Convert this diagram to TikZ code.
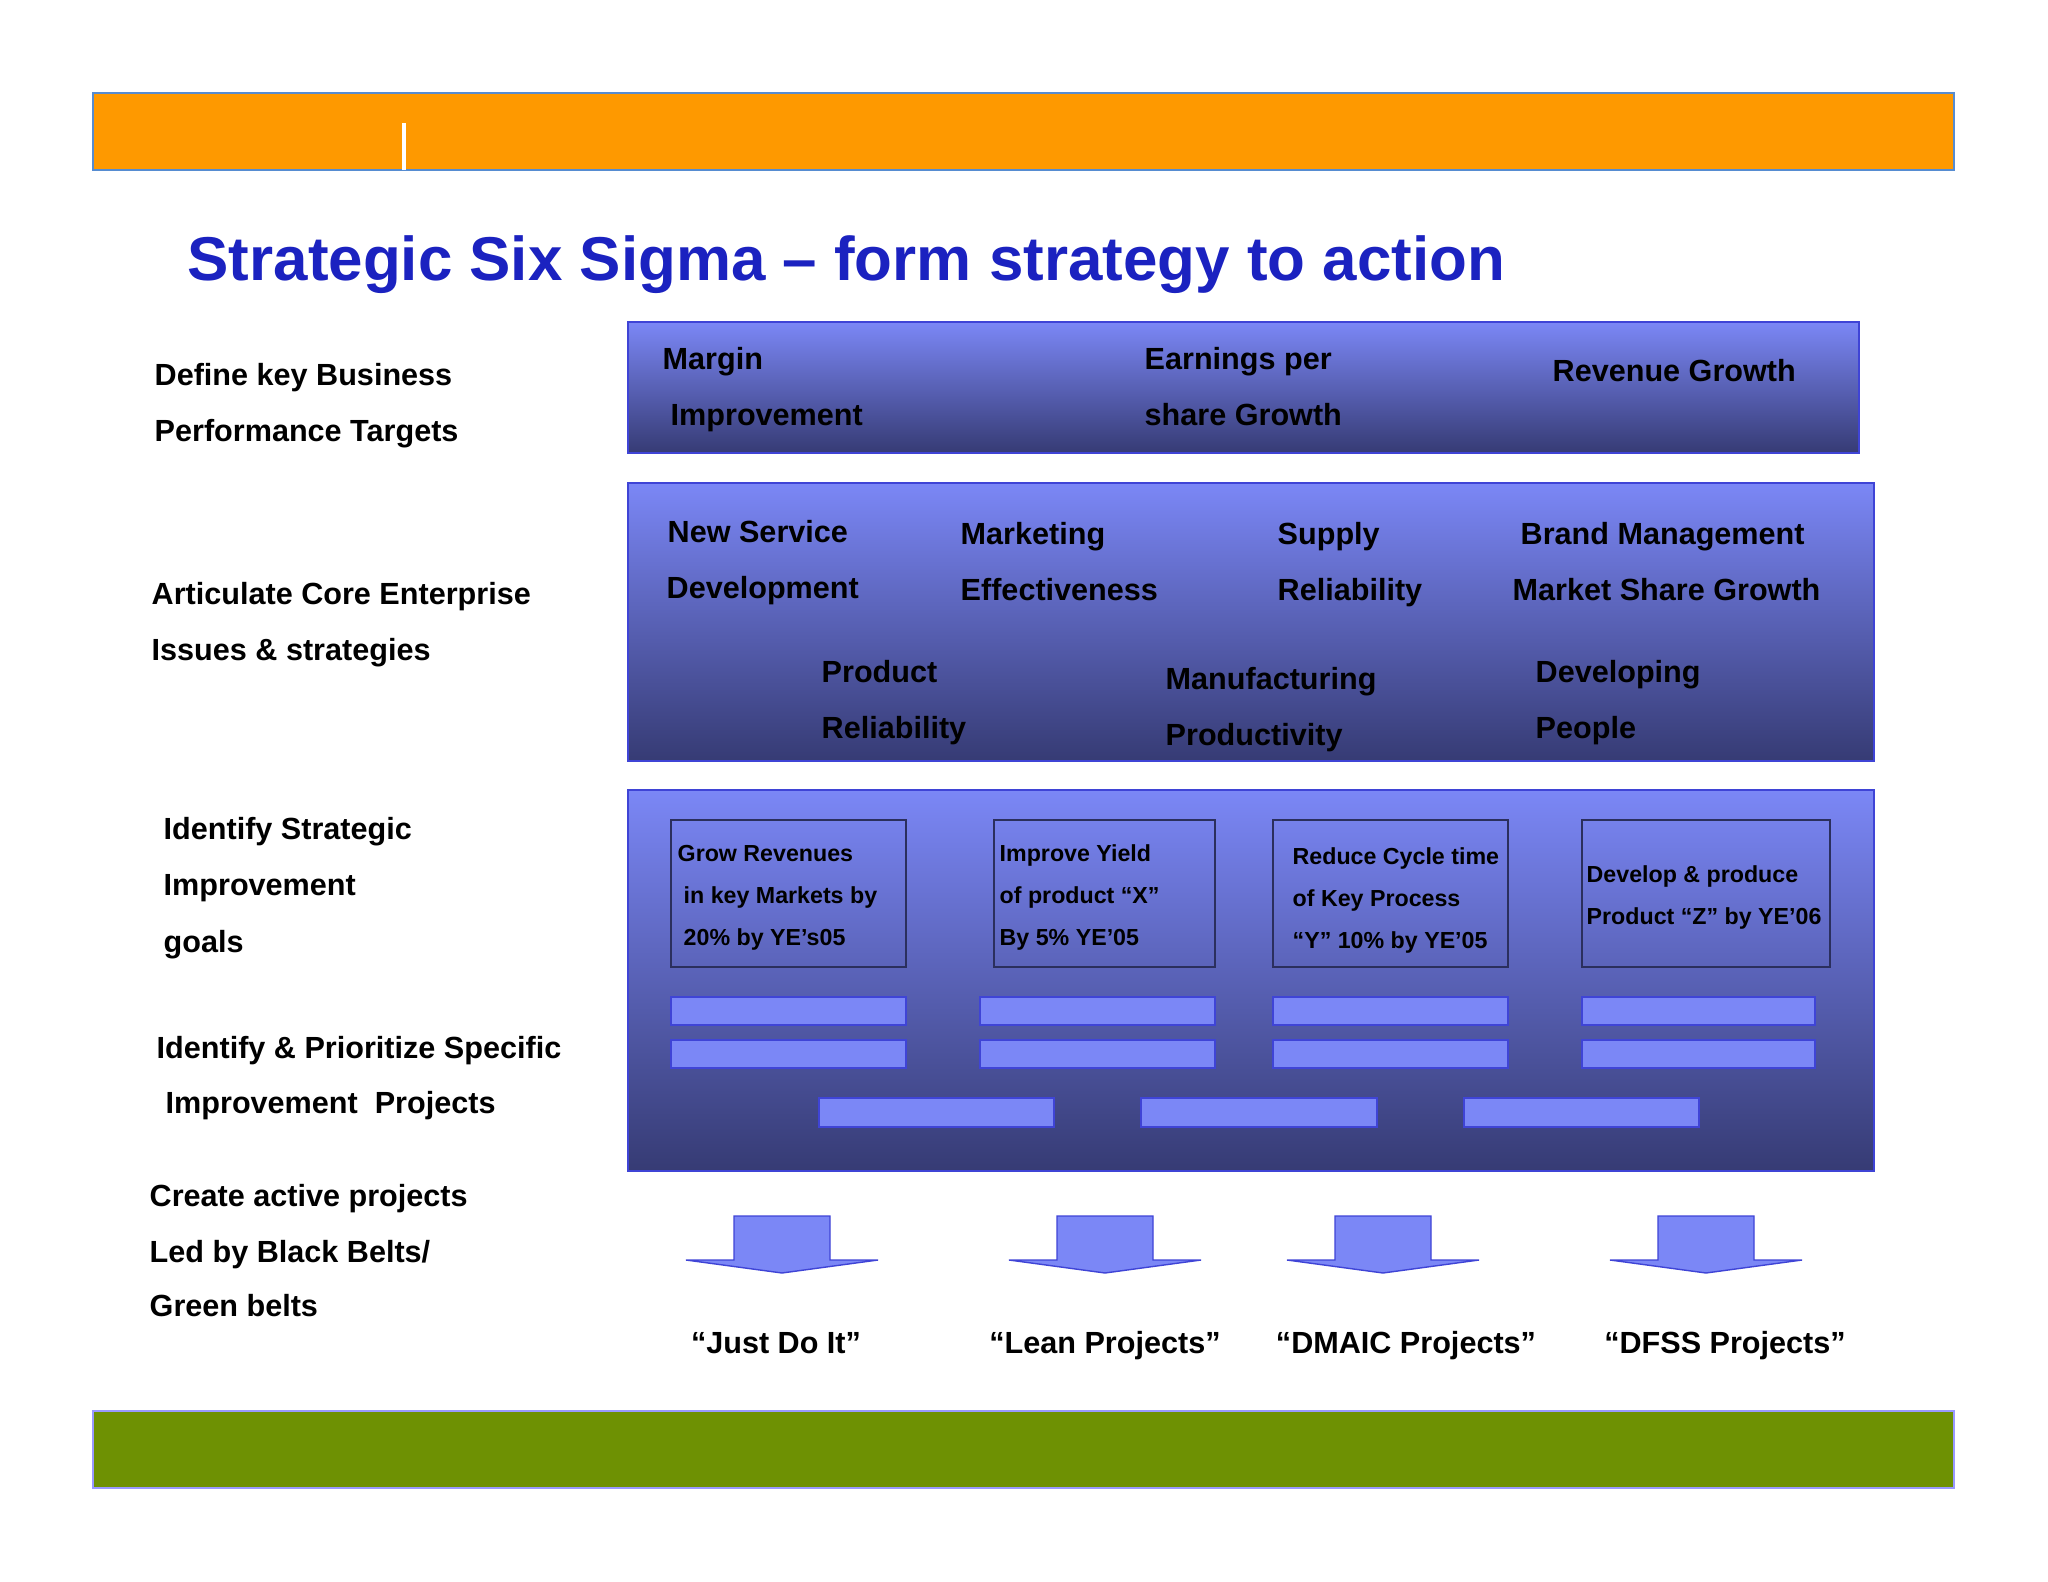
\documentclass[tikz,border=0pt]{standalone}
\usepackage{fontspec}
\setmainfont{Liberation Sans}
\definecolor{barorange}{HTML}{FE9900}
\definecolor{bargreen}{HTML}{6E9103}
\definecolor{titleblue}{HTML}{1B22C0}
\definecolor{panellight}{HTML}{7B87F6}
\definecolor{panelmid}{HTML}{5F68C8}
\definecolor{paneldark}{HTML}{363B74}
\definecolor{paneledge}{HTML}{3F44D6}
\tikzset{
  panel/.style={top color=panellight, middle color=panelmid, bottom color=paneldark, draw=paneledge, line width=0.5pt},
  goalbox/.style={draw=paneldark!80!black, line width=0.4pt},
  slot/.style={fill=panellight, draw=paneledge, line width=0.5pt},
  lbl/.style={anchor=base west, inner sep=0pt, font=\fontsize{8.7}{10}\selectfont\bfseries},
  goaltxt/.style={anchor=base west, inner sep=0pt, font=\fontsize{6.6}{8}\selectfont\bfseries},
  projtxt/.style={anchor=base, inner sep=0pt, font=\fontsize{8.7}{10}\selectfont\bfseries}
}
\begin{document}
\begin{tikzpicture}[x=0.01cm, y=-0.01cm]
    \newcommand{\dropArrow}[1]{
        \fill[panellight, draw=paneledge, line width=0.4pt]
          (#1-48,1216) -- (#1+48,1216) -- (#1+48,1260) -- (#1+96,1260)
          -- (#1,1273) -- (#1-96,1260) -- (#1-48,1260) -- cycle;
    }
\useasboundingbox[fill=white] (0,0) rectangle (2048,1582);

% top and bottom bars
\fill[barorange, draw=cyan!50!blue!70, line width=0.6pt] (93,93) rectangle (1954,170);
\draw[white, line width=1pt] (404,123) -- (404,170);
\fill[bargreen, draw=blue!40, line width=0.6pt] (93,1411) rectangle (1954,1488);

\node[anchor=base west, inner sep=0pt, text=titleblue, font=\fontsize{17.6}{20}\selectfont\bfseries]
  (title) at (187,281) {Strategic Six Sigma -- form strategy to action};

% left column
\node[lbl] (def1) at (154,385) {Define key Business};
\node[lbl] (def2) at (154,441) {Performance Targets};
\node[lbl] (art1) at (151,604) {Articulate Core Enterprise};
\node[lbl] (art2) at (151,660) {Issues \& strategies};
\node[lbl] (idg1) at (163,839) {Identify Strategic};
\node[lbl] (idg2) at (163,895) {Improvement};
\node[lbl] (idg3) at (163,952) {goals};
\node[lbl] (idp1) at (156,1058) {Identify \& Prioritize Specific};
\node[lbl] (idp2) at (165,1113) {Improvement\ \ Projects};
\node[lbl] (cr1) at (149,1206) {Create active projects};
\node[lbl] (cr2) at (149,1262) {Led by Black Belts/};
\node[lbl] (cr3) at (149,1316) {Green belts};

% targets
\path[panel] (628,322) rectangle (1859,453);
\node[lbl] (mar1) at (662,369) {Margin};
\node[lbl] (mar2) at (670,425) {Improvement};
\node[lbl] (eps1) at (1144,369) {Earnings per};
\node[lbl] (eps2) at (1144,425) {share Growth};
\node[lbl] (rev) at (1552,381) {Revenue Growth};

% issues
\path[panel] (628,483) rectangle (1874,761);
\node[lbl] (nsd1) at (667,542) {New Service};
\node[lbl] (nsd2) at (666,598) {Development};
\node[lbl] (mkt1) at (960,544) {Marketing};
\node[lbl] (mkt2) at (960,600) {Effectiveness};
\node[lbl] (sup1) at (1277,544) {Supply};
\node[lbl] (sup2) at (1277,600) {Reliability};
\node[lbl] (brd1) at (1520,544) {Brand Management};
\node[lbl] (brd2) at (1512,600) {Market Share Growth};
\node[lbl] (prd1) at (821,682) {Product};
\node[lbl] (prd2) at (821,738) {Reliability};
\node[lbl] (man1) at (1165,689) {Manufacturing};
\node[lbl] (man2) at (1165,745) {Productivity};
\node[lbl] (dev1) at (1535,682) {Developing};
\node[lbl] (dev2) at (1535,738) {People};

% goals and projects
\path[panel] (628,790) rectangle (1874,1171);
\draw[goalbox] (671,820) rectangle (906,967);
\draw[goalbox] (994,820) rectangle (1215,967);
\draw[goalbox] (1273,820) rectangle (1508,967);
\draw[goalbox] (1582,820) rectangle (1830,967);
\node[goaltxt] (g11) at (677,861) {Grow Revenues};
\node[goaltxt] (g12) at (683,903) {in key Markets by};
\node[goaltxt] (g13) at (683,945) {20\% by YE’s05};
\node[goaltxt] (g21) at (999,861) {Improve Yield};
\node[goaltxt] (g22) at (999,903) {of product “X”};
\node[goaltxt] (g23) at (999,945) {By 5\% YE’05};
\node[goaltxt] (g31) at (1292,864) {Reduce Cycle time};
\node[goaltxt] (g32) at (1292,906) {of Key Process};
\node[goaltxt] (g33) at (1292,948) {“Y” 10\% by YE’05};
\node[goaltxt] (g41) at (1586,882) {Develop \& produce};
\node[goaltxt] (g42) at (1586,924) {Product “Z” by YE’06};

\foreach \a/\b in {671/906,980/1215,1273/1508,1582/1815}{
  \draw[slot] (\a,997) rectangle (\b,1025);
  \draw[slot] (\a,1040) rectangle (\b,1068);
}
\foreach \a/\b in {819/1054,1141/1377,1464/1699}
  \draw[slot] (\a,1098) rectangle (\b,1127);

% project types
\dropArrow{782}
\dropArrow{1105}
\dropArrow{1383}
\dropArrow{1706}
\node[projtxt] (jdi) at (776,1353) {“Just Do It”};
\node[projtxt] (lean) at (1105,1353) {“Lean Projects”};
\node[projtxt] (dmaic) at (1406,1353) {“DMAIC Projects”};
\node[projtxt] (dfss) at (1725,1353) {“DFSS Projects”};

\end{tikzpicture}
\end{document}
